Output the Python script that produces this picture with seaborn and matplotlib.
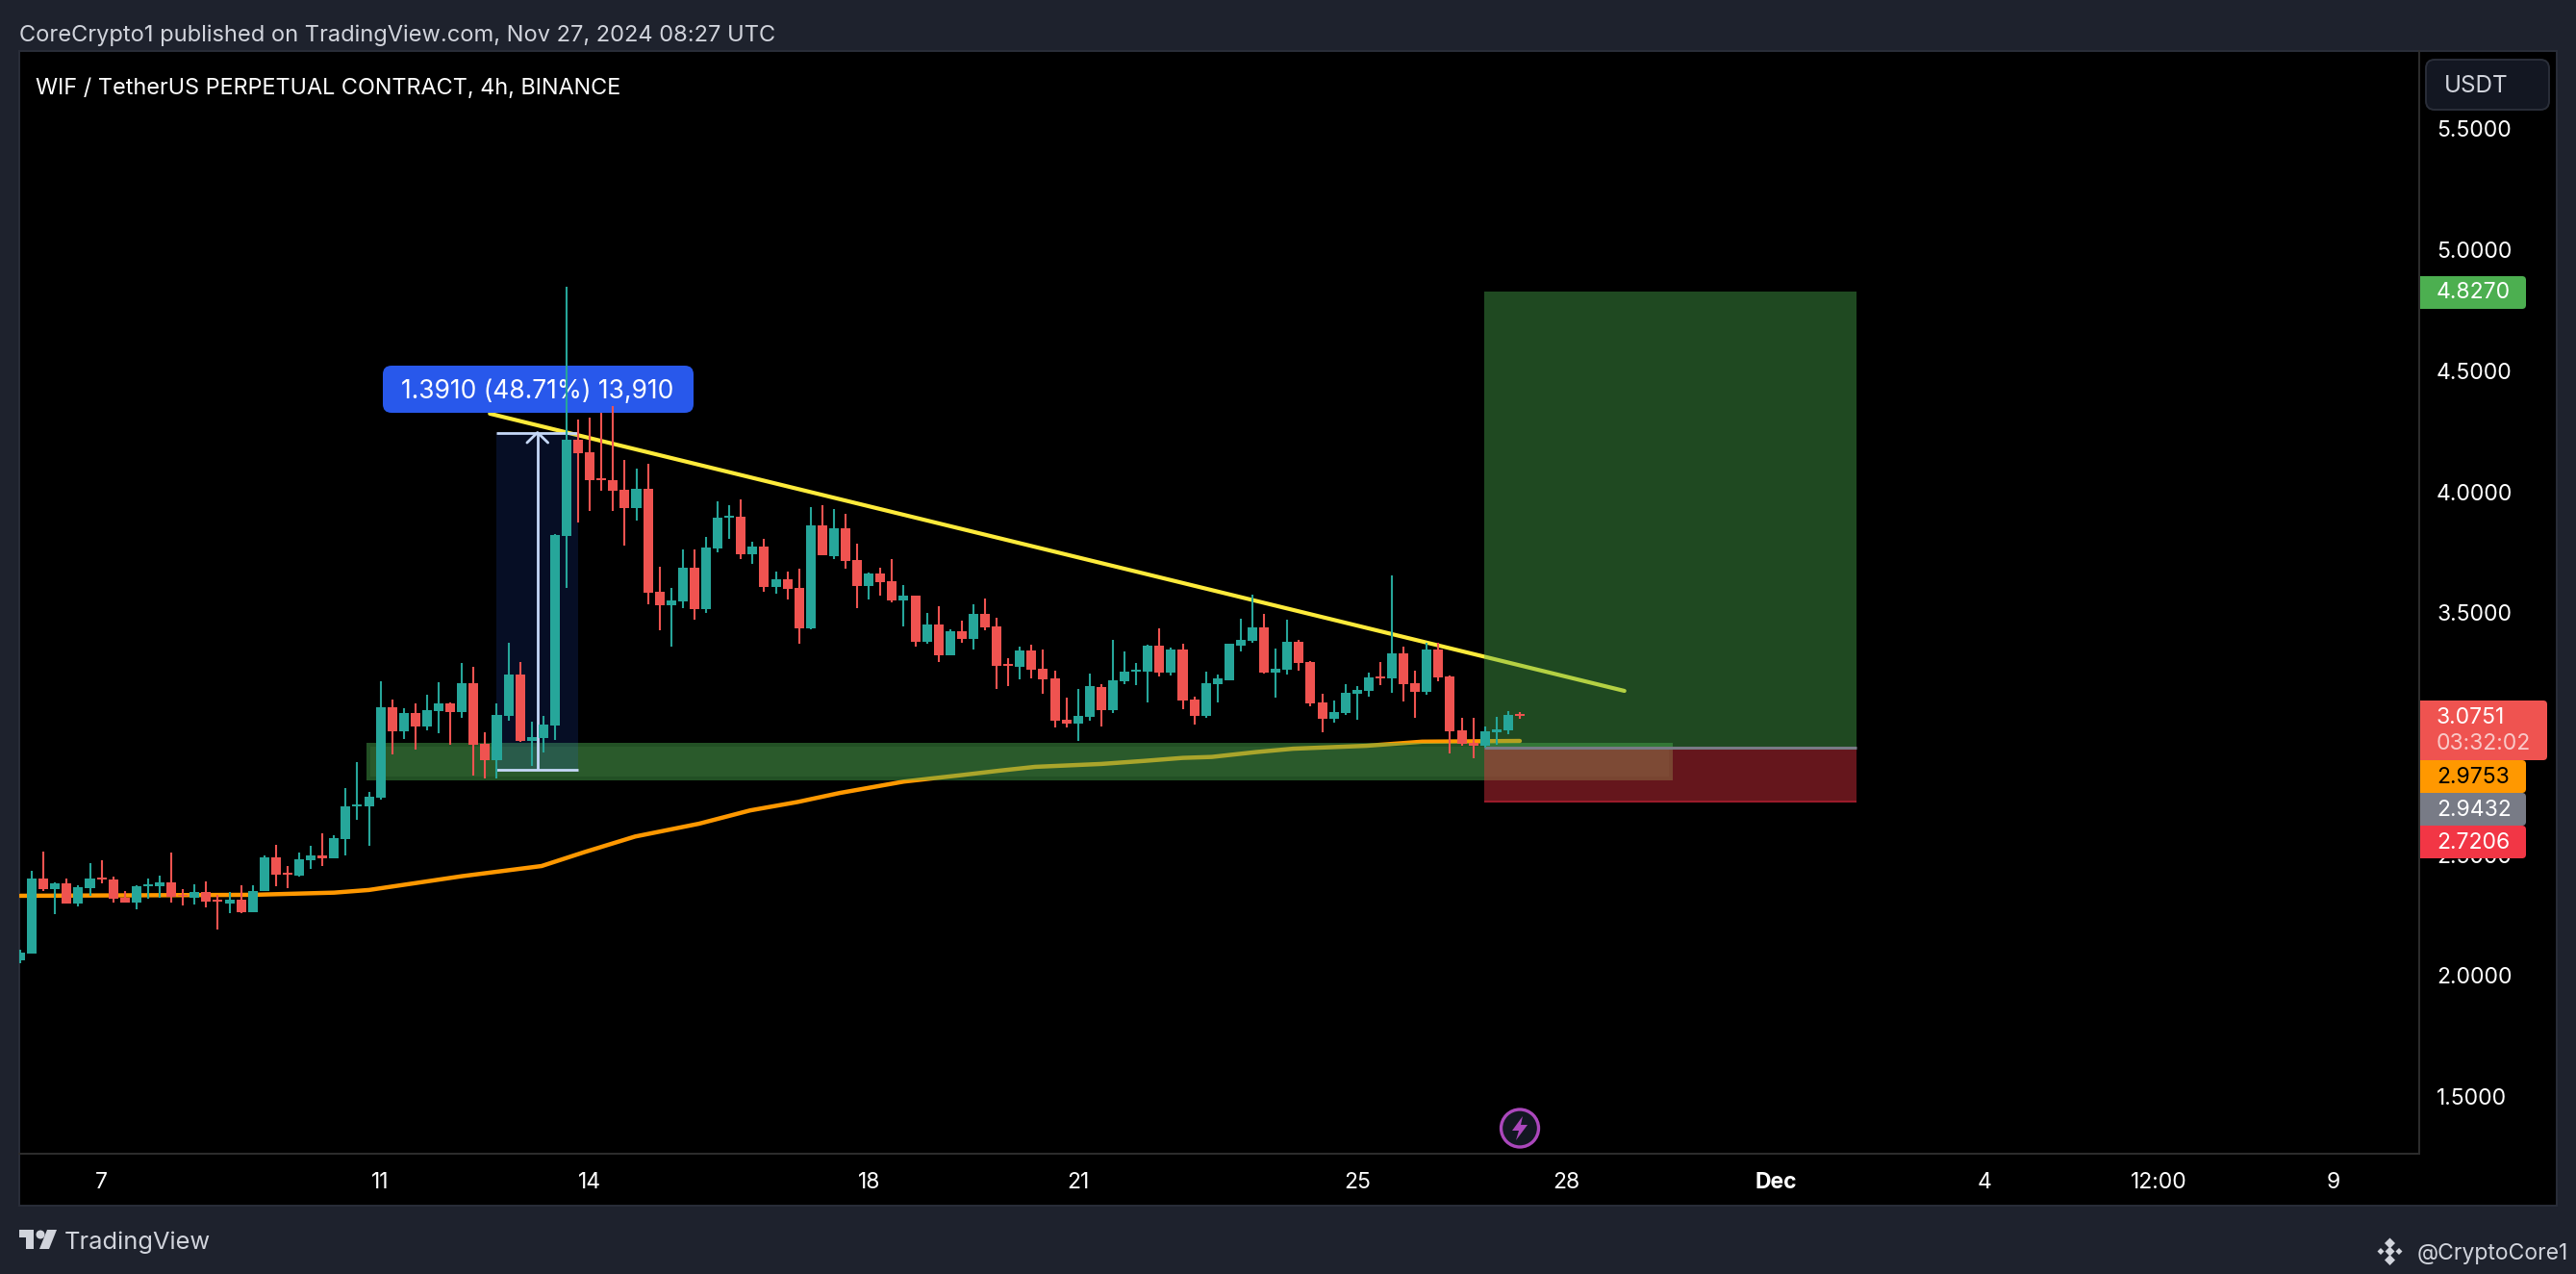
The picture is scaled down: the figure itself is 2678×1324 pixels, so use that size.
import numpy as np
import pandas as pd
import matplotlib
matplotlib.use("Agg")
import matplotlib.pyplot as plt
import seaborn as sns
from matplotlib.patches import Circle, FancyBboxPatch, Polygon, Rectangle
from matplotlib.transforms import IdentityTransform

# candle data (4h bars)
highs = [2.107, 2.433, 2.513, 2.385, 2.401, 2.373, 2.465, 2.477, 2.409, 2.350,
         2.373, 2.401, 2.413, 2.509, 2.357, 2.377, 2.389, 2.334, 2.346, 2.373,
         2.373, 2.497, 2.541, 2.453, 2.509, 2.537, 2.588, 2.580, 2.775, 2.883,
         2.759, 3.217, 3.141, 3.105, 3.125, 3.161, 3.213, 3.129, 3.292, 3.276,
         3.006, 3.125, 3.376, 3.296, 3.050, 3.074, 3.825, 4.848, 4.298, 4.307,
         4.325, 4.354, 4.132, 4.095, 4.115, 3.690, 3.602, 3.761, 3.761, 3.814,
         3.960, 3.945, 3.969, 3.794, 3.805, 3.671, 3.671, 3.682, 3.936, 3.945,
         3.929, 3.909, 3.786, 3.666, 3.686, 3.722, 3.615, 3.571, 3.499, 3.527,
         3.432, 3.467, 3.535, 3.559, 3.479, 3.312, 3.360, 3.368, 3.348, 3.261,
         3.149, 3.185, 3.249, 3.205, 3.388, 3.340, 3.292, 3.368, 3.436, 3.356,
         3.372, 3.153, 3.257, 3.245, 3.372, 3.475, 3.575, 3.495, 3.352, 3.471,
         3.388, 3.300, 3.165, 3.137, 3.205, 3.197, 3.253, 3.296, 3.654, 3.360,
         3.261, 3.376, 3.375, 3.241, 3.066, 3.066, 3.030, 3.070, 3.093, 3.089]
lows = [2.051, 2.091, 2.350, 2.254, 2.298, 2.286, 2.330, 2.381, 2.302, 2.302,
        2.274, 2.318, 2.322, 2.302, 2.290, 2.294, 2.282, 2.190, 2.258, 2.258,
        2.262, 2.350, 2.369, 2.361, 2.409, 2.441, 2.453, 2.485, 2.497, 2.644,
        2.537, 2.727, 2.914, 2.978, 2.934, 3.014, 3.002, 2.954, 3.066, 2.827,
        2.815, 2.815, 3.054, 2.966, 2.867, 2.922, 2.976, 3.602, 3.875, 3.921,
        4.006, 3.921, 3.777, 3.881, 3.536, 3.428, 3.359, 3.518, 3.472, 3.499,
        3.750, 3.805, 3.722, 3.702, 3.587, 3.578, 3.555, 3.372, 3.432, 3.737,
        3.722, 3.682, 3.518, 3.555, 3.571, 3.543, 3.443, 3.359, 3.372, 3.298,
        3.324, 3.376, 3.348, 3.428, 3.185, 3.197, 3.225, 3.229, 3.165, 3.026,
        3.026, 2.970, 3.054, 3.030, 3.085, 3.205, 3.201, 3.129, 3.237, 3.241,
        3.101, 3.038, 3.066, 3.129, 3.221, 3.340, 3.376, 3.249, 3.149, 3.245,
        3.261, 3.113, 3.006, 3.046, 3.077, 3.058, 3.153, 3.201, 3.169, 3.133,
        3.066, 3.161, 3.217, 2.918, 2.950, 2.899, 2.942, 2.954, 2.998, 3.062]
body_top = [2.095, 2.401, 2.401, 2.381, 2.381, 2.365, 2.401, 2.405, 2.397, 2.322,
            2.369, 2.377, 2.385, 2.385, 2.334, 2.346, 2.346, 2.314, 2.314, 2.314,
            2.350, 2.489, 2.489, 2.425, 2.481, 2.497, 2.497, 2.568, 2.700, 2.708,
            2.739, 3.109, 3.109, 3.085, 3.085, 3.097, 3.125, 3.125, 3.209, 3.209,
            2.958, 3.078, 3.245, 3.245, 2.986, 3.038, 3.821, 4.215, 4.215, 4.163,
            4.057, 4.048, 4.009, 4.013, 4.013, 3.587, 3.551, 3.686, 3.686, 3.770,
            3.894, 3.902, 3.896, 3.774, 3.774, 3.638, 3.638, 3.602, 3.861, 3.861,
            3.849, 3.849, 3.717, 3.662, 3.662, 3.631, 3.571, 3.571, 3.452, 3.452,
            3.423, 3.424, 3.495, 3.495, 3.444, 3.288, 3.344, 3.344, 3.268, 3.229,
            3.058, 3.074, 3.197, 3.193, 3.221, 3.257, 3.264, 3.364, 3.364, 3.348,
            3.348, 3.141, 3.209, 3.229, 3.372, 3.388, 3.440, 3.440, 3.268, 3.380,
            3.380, 3.296, 3.129, 3.089, 3.169, 3.181, 3.233, 3.237, 3.332, 3.332,
            3.209, 3.348, 3.348, 3.237, 3.014, 2.962, 3.010, 3.018, 3.078, 3.081]
body_bot = [2.063, 2.091, 2.357, 2.357, 2.298, 2.298, 2.361, 2.397, 2.318, 2.302,
            2.302, 2.369, 2.369, 2.326, 2.328, 2.322, 2.306, 2.306, 2.298, 2.262,
            2.262, 2.350, 2.417, 2.417, 2.413, 2.477, 2.485, 2.485, 2.564, 2.700,
            2.700, 2.735, 3.010, 3.010, 3.030, 3.030, 3.093, 3.089, 3.089, 2.954,
            2.891, 2.891, 3.074, 2.970, 2.970, 2.982, 3.034, 3.818, 4.159, 4.048,
            4.050, 4.006, 3.933, 3.933, 3.582, 3.531, 3.531, 3.547, 3.516, 3.516,
            3.766, 3.894, 3.742, 3.742, 3.607, 3.607, 3.598, 3.436, 3.436, 3.737,
            3.734, 3.715, 3.611, 3.611, 3.626, 3.551, 3.551, 3.379, 3.379, 3.324,
            3.324, 3.392, 3.392, 3.440, 3.280, 3.280, 3.276, 3.264, 3.225, 3.054,
            3.042, 3.042, 3.070, 3.097, 3.097, 3.217, 3.257, 3.257, 3.253, 3.253,
            3.137, 3.074, 3.074, 3.205, 3.221, 3.364, 3.384, 3.253, 3.253, 3.264,
            3.292, 3.125, 3.062, 3.062, 3.085, 3.165, 3.177, 3.229, 3.229, 3.205,
            3.173, 3.173, 3.233, 3.010, 2.958, 2.950, 2.950, 3.006, 3.014, 3.074]
# green bars by index, everything else is red
up_bars = [0, 1, 3, 5, 6, 10, 11, 12, 15, 18, 20, 21, 24, 25, 27, 28, 29, 30, 31,
           33, 35, 36, 38, 41, 42, 44, 45, 46, 47, 53, 56, 57, 59, 60, 61, 63, 65,
           68, 70, 73, 76, 78, 80, 82, 86, 91, 92, 94, 95, 96, 97, 99, 102, 103,
           104, 105, 106, 108, 109, 113, 114, 115, 116, 118, 121, 126, 127, 128]

# moving average and trendline
ema_idx = [0, 20, 27, 30, 38, 44.85, 48.5, 52.9, 58.4, 62.8, 66.9, 70.5, 76, 81, 84.2,
           87.3, 93, 96.8, 100, 102.5, 106.3, 109.5, 115.8, 120.6, 129]
ema_val = [2.330, 2.334, 2.343, 2.354, 2.411, 2.453, 2.510, 2.575, 2.628, 2.683, 2.718,
           2.755, 2.802, 2.829, 2.847, 2.863, 2.875, 2.888, 2.900, 2.904, 2.924, 2.938,
           2.950, 2.967, 2.970]
trend_idx = [40.4, 138.0]
trend_val = [4.323, 3.177]

# drawings
zone_idx = (29.8, 142.2)
zone_val = (2.807, 2.962)
long_idx = (125.9, 158.0)
target, entry, stop = 4.8270, 2.9432, 2.7206
measure_idx = (41, 48)
measure_val = (2.851, 4.245)

price_ticks = [5.5, 5.0, 4.5, 4.0, 3.5, 2.5, 2.0, 1.5]
date_ticks = [7, 31, 49, 73, 91, 115, 133, 151, 169, 184, 199]
date_labels = ["7", "11", "14", "18", "21", "25", "28", "Dec", "4", "12:00", "9"]

UP = "#26a69a"
DOWN = "#ef5350"
PANEL = "#1e222d"
SOFT = "#d1d4dc"
W, H = 2678, 1324

sns.set_theme(style="dark")
plt.rcParams["font.family"] = ["Inter", "DejaVu Sans"]
plt.rcParams["axes.unicode_minus"] = False

fig = plt.figure(figsize=(W / 100, H / 100), dpi=100, facecolor=PANEL)

# black plate behind chart + axis strips
bg = fig.add_axes([20 / W, 1 - 1253 / H, 2638 / W, 1200 / H], facecolor="black", zorder=0)
bg.set_xticks([])
bg.set_yticks([])
for s in bg.spines.values():
    s.set_color("#2a2e39")
    s.set_linewidth(1.4)

ax = fig.add_axes([20 / W, 1 - 1199 / H, 2495 / W, 1146 / H], zorder=1)
ax.patch.set_alpha(0)

# trend and ema sit under the zones
ema_df = pd.DataFrame({"idx": ema_idx, "price": ema_val})
trend_df = pd.DataFrame({"idx": trend_idx, "price": trend_val})
sns.lineplot(data=ema_df, x="idx", y="price", color="#ff9800", lw=3.2, ax=ax, zorder=1,
             solid_capstyle="round")
sns.lineplot(data=trend_df, x="idx", y="price", color="#ffeb3b", lw=3, ax=ax, zorder=1,
             solid_capstyle="round")

# support zone, darker border then lighter middle
ax.add_patch(Rectangle((zone_idx[0], zone_val[0]), zone_idx[1] - zone_idx[0],
                       zone_val[1] - zone_val[0], fc="#4caf50", alpha=0.46, lw=0, zorder=2))
ax.add_patch(Rectangle((zone_idx[0] + 0.33, zone_val[0] + 0.016), zone_idx[1] - zone_idx[0] - 0.66,
                       zone_val[1] - zone_val[0] - 0.032, fc="#8ad08a", alpha=0.08, lw=0, zorder=2))

# long position box
ax.add_patch(Rectangle((long_idx[0], entry), long_idx[1] - long_idx[0], target - entry,
                       fc="#4caf50", alpha=0.42, lw=0, zorder=3))
ax.add_patch(Rectangle((long_idx[0], stop), long_idx[1] - long_idx[0], entry - stop,
                       fc="#f23645", alpha=0.42, lw=0, zorder=3))
ax.hlines(entry, long_idx[0], long_idx[1], color="#787b86", lw=2.2, zorder=3.1)
ax.hlines(stop, long_idx[0], long_idx[1], color="#9a1b2a", lw=1.5, zorder=3.1)

# price range measure
mid = sum(measure_idx) / 2
ax.add_patch(Rectangle((measure_idx[0], measure_val[0]), measure_idx[1] - measure_idx[0],
                       measure_val[1] - measure_val[0], fc="#2962ff", alpha=0.15, lw=0, zorder=3))
ax.hlines(list(measure_val), measure_idx[0], measure_idx[1], color="#c5d8f7", lw=2, zorder=3.2)
ax.vlines(mid, measure_val[0], measure_val[1], color="#c5d8f7", lw=2, zorder=3.2)
ax.plot([mid - 0.9, mid, mid + 0.9], [measure_val[1] - 0.042, measure_val[1], measure_val[1] - 0.042],
        color="#c5d8f7", lw=2, zorder=3.2)

# measure label (pixel placed)
ax.add_patch(FancyBboxPatch((406, H - 421), 307, 33, boxstyle="round,pad=8,rounding_size=9",
                            fc="#2858eb", ec="none", transform=IdentityTransform(), zorder=3.5))
ax.text(559, H - 407, "1.3910 (48.71%) 13,910", color="white", fontsize=19, ha="center",
        va="center", transform=IdentityTransform(), zorder=3.6)

# candles
idx = np.arange(len(highs))
up = np.isin(idx, up_bars)
colors = np.where(up, UP, DOWN)
ax.vlines(idx, lows, highs, colors=colors, lw=1.5, zorder=5)
ax.bar(idx, np.array(body_top) - np.array(body_bot), bottom=body_bot, width=0.83,
       color=colors, lw=0, zorder=5)

ax.set_xlim((20 - 21) / 12.085, (2515 - 21) / 12.085)
ax.set_ylim(5.5 - 1065 / 251.4, 5.5 + 81 / 251.4)
ax.set_xlabel("")
ax.set_ylabel("")
ax.yaxis.tick_right()
ax.set_yticks(price_ticks)
ax.set_yticklabels([f"{p:.4f}" for p in price_ticks])
ax.set_xticks(date_ticks)
ax.set_xticklabels(date_labels)
ax.tick_params(axis="y", length=0, pad=13, labelsize=16.5, labelcolor="white")
ax.tick_params(axis="x", length=0, pad=14, labelsize=16.5, labelcolor="white")
ax.get_xticklabels()[7].set_fontweight("bold")
ax.grid(False)
for name, s in ax.spines.items():
    s.set_visible(name in ("bottom", "right"))
    s.set_color("#2e2e2e")
    s.set_linewidth(1.4)


def add_px(patch):
    fig.add_artist(patch)
    patch.set_zorder(10)


def price_tag(y0, y1, x1, color):
    # flat on the axis side, rounded on the outside
    add_px(Rectangle((2516, H - y1), 14, y1 - y0, fc=color, lw=0, transform=IdentityTransform()))
    add_px(FancyBboxPatch((2520, H - y1 + 4), x1 - 2524, y1 - y0 - 8,
                          boxstyle="round,pad=4,rounding_size=4", fc=color, lw=0,
                          transform=IdentityTransform()))


def tag_text(y, s, color="white"):
    fig.text(2533 / W, 1 - y / H, s, color=color, fontsize=16.5, ha="left", va="center", zorder=11)


price_tag(728, 790, 2648, "#ef5350")
price_tag(790, 824, 2626, "#ff9800")
price_tag(824, 858, 2626, "#787b86")
price_tag(858, 892, 2626, "#f23645")
price_tag(287, 321, 2626, "#4caf50")
tag_text(746, "3.0751")
tag_text(773, "03:32:02", "#f9c9c8")
tag_text(808, "2.9753", "black")
tag_text(842, "2.9432")
tag_text(876, "2.7206")
tag_text(304, "4.8270")

# currency button
add_px(FancyBboxPatch((2530, H - 106), 112, 36, boxstyle="round,pad=8,rounding_size=9",
                      fc="#131722", ec="#2a2e39", lw=1.4, transform=IdentityTransform()))
fig.text(2541 / W, 1 - 89 / H, "USDT", color=SOFT, fontsize=17.5, ha="left", va="center", zorder=11)

# header / footer
fig.text(20 / W, 1 - 37 / H, "CoreCrypto1 published on TradingView.com, Nov 27, 2024 08:27 UTC",
         color=SOFT, fontsize=17, ha="left", va="center")
fig.text(37 / W, 1 - 92 / H, "WIF / TetherUS PERPETUAL CONTRACT, 4h, BINANCE",
         color="white", fontsize=16.9, ha="left", va="center", zorder=11)
fig.text(67 / W, 1 - 1291 / H, "TradingView", color=SOFT, fontsize=18.3, ha="left", va="center")
fig.text(2670 / W, 1 - 1303 / H, "@CryptoCore1", color=SOFT, fontsize=16.5, ha="right", va="center")

# tradingview mark
add_px(Polygon([(20, H - 1278), (35, H - 1278), (35, H - 1298), (27, H - 1298), (27, H - 1286), (20, H - 1286)],
               fc=SOFT, lw=0, transform=IdentityTransform()))
add_px(Circle((42, H - 1283), 4.5, fc=SOFT, lw=0, transform=IdentityTransform()))
add_px(Polygon([(49, H - 1278), (59, H - 1278), (51, H - 1298), (41, H - 1298)],
               fc=SOFT, lw=0, transform=IdentityTransform()))

# binance diamonds
for cx, cy, r in [(2484.5, 1300.5, 5), (2484.5, 1292, 5.5), (2484.5, 1309.5, 5.5), (2475, 1300.5, 3.5), (2494, 1300.5, 3.5)]:
    add_px(Polygon([(cx - r, H - cy), (cx, H - cy + r), (cx + r, H - cy), (cx, H - cy - r)],
                   fc=SOFT, lw=0, transform=IdentityTransform()))

# lightning badge
add_px(Circle((1580, H - 1172.5), 19.5, fc="#131722", ec="#ab47bc", lw=2.4, transform=IdentityTransform()))
add_px(Polygon([(1583, H - 1160), (1572, H - 1175), (1579, H - 1175), (1576, H - 1185),
                (1588, H - 1169), (1581, H - 1169)], fc="#ab47bc", lw=0, transform=IdentityTransform()))

fig.savefig("out.png", dpi=100, facecolor=fig.get_facecolor())
